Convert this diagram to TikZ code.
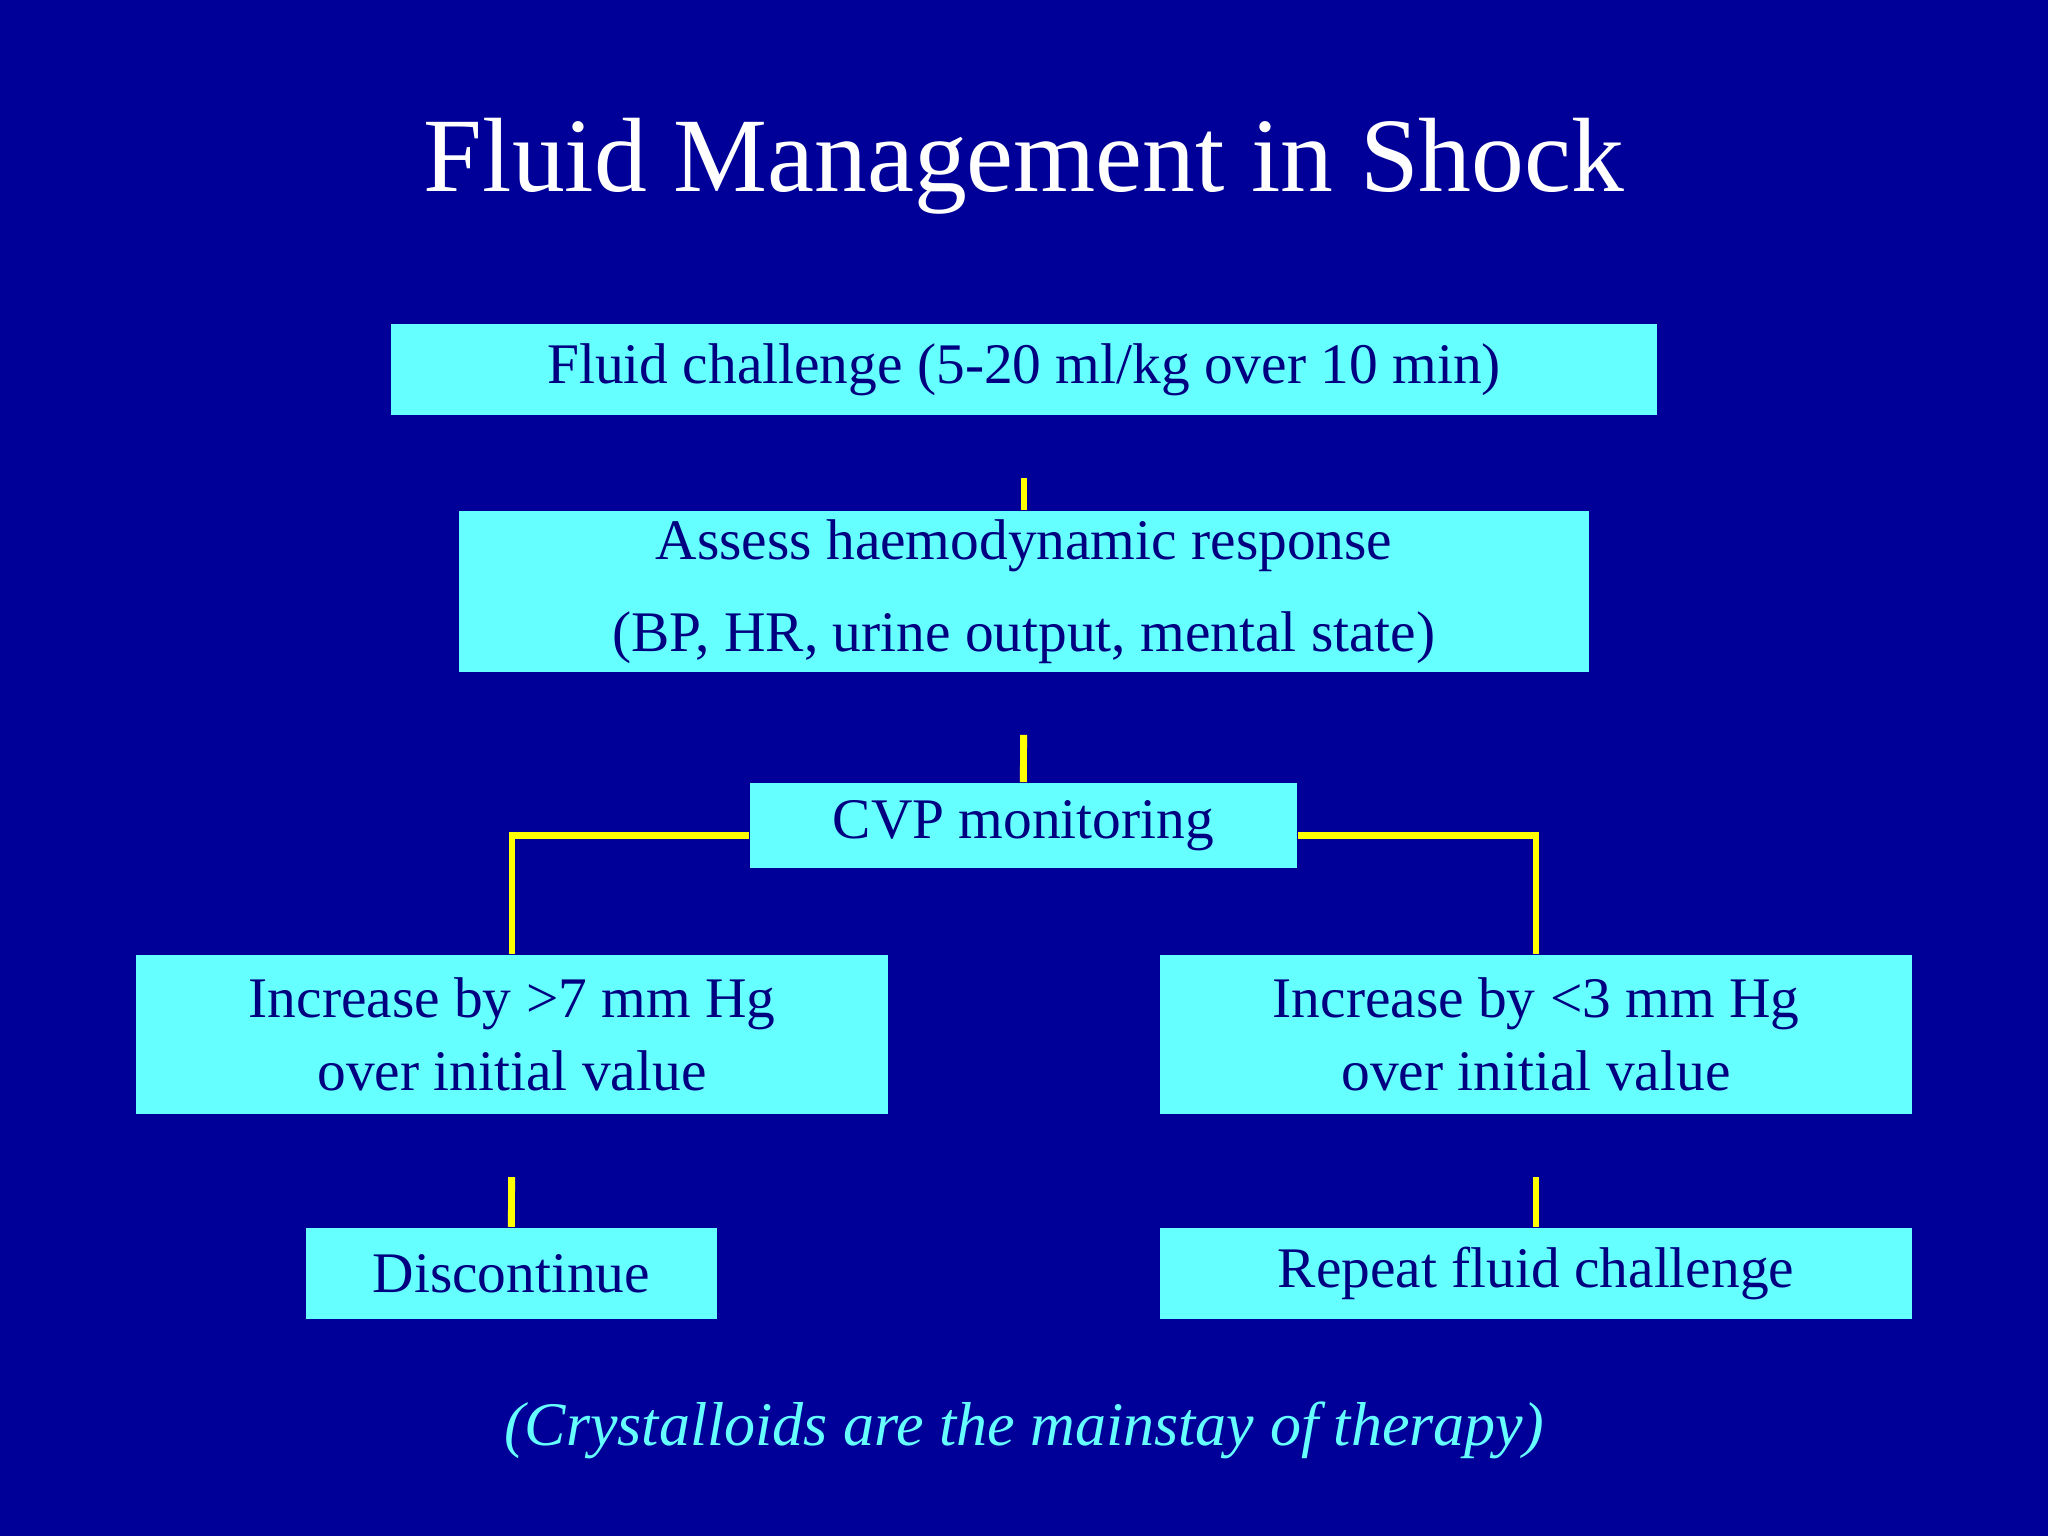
\documentclass[tikz,border=0pt]{standalone}
\usepackage{fontspec}
\setmainfont{Liberation Serif}
\definecolor{bg}{HTML}{000099}
\definecolor{boxc}{HTML}{66FFFF}
\definecolor{txt}{HTML}{000080}
\definecolor{yl}{HTML}{FFFF00}
\begin{document}
\begin{tikzpicture}[x=0.01cm,y=-0.01cm,
  bx/.style={fill=boxc,text=txt,inner sep=0pt,align=center,font=\fontsize{12.5}{20}\selectfont},
  ln/.style={draw=yl,line width=1.5pt}]
\fill[bg] (0,0) rectangle (1568,1176);
\node[text=white,font=\fontsize{23}{28}\selectfont] (title) at (784,127) {Fluid Management in Shock};
\node[bx,minimum width=9.68cm,minimum height=0.70cm] (b1) at (784,283) {Fluid challenge (5-20 ml/kg over 10 min)};
\node[bx,minimum width=8.64cm,minimum height=1.23cm] (b2) at (784,453) {Assess haemodynamic response\\(BP, HR, urine output, mental state)};
\node[bx,minimum width=4.19cm,minimum height=0.65cm] (b3) at (783.5,632) {CVP monitoring};
\node[bx,minimum width=5.76cm,minimum height=1.22cm,font=\fontsize{12.5}{16}\selectfont] (b4) at (392,792) {Increase by >7 mm Hg\\over initial value};
\node[bx,minimum width=5.76cm,minimum height=1.22cm,font=\fontsize{12.5}{16}\selectfont] (b5) at (1176,792) {Increase by <3 mm Hg\\over initial value};
\node[bx,minimum width=3.15cm,minimum height=0.70cm] (b6) at (391.5,975) {Discontinue};
\node[bx,minimum width=5.76cm,minimum height=0.70cm] (b7) at (1176,975) {Repeat fluid challenge};
\node[text=boxc,font=\fontsize{13.5}{16}\selectfont\itshape] (foot) at (784,1095) {(Crystalloids are the mainstay of therapy)};
\draw[ln,shorten <=9\pgflinewidth] (b1.south) -- (b2.north);
\draw[ln,shorten <=9\pgflinewidth] (b2.south) -- (b3.north);
\draw[ln] (b3.west |- 0,640) -| (b4.north);
\draw[ln] (b3.east |- 0,640) -| (b5.north);
\draw[ln,shorten <=9\pgflinewidth] (b4.south) -- (b6.north);
\draw[ln,shorten <=9\pgflinewidth] (b5.south) -- (b7.north);
\end{tikzpicture}
\end{document}
